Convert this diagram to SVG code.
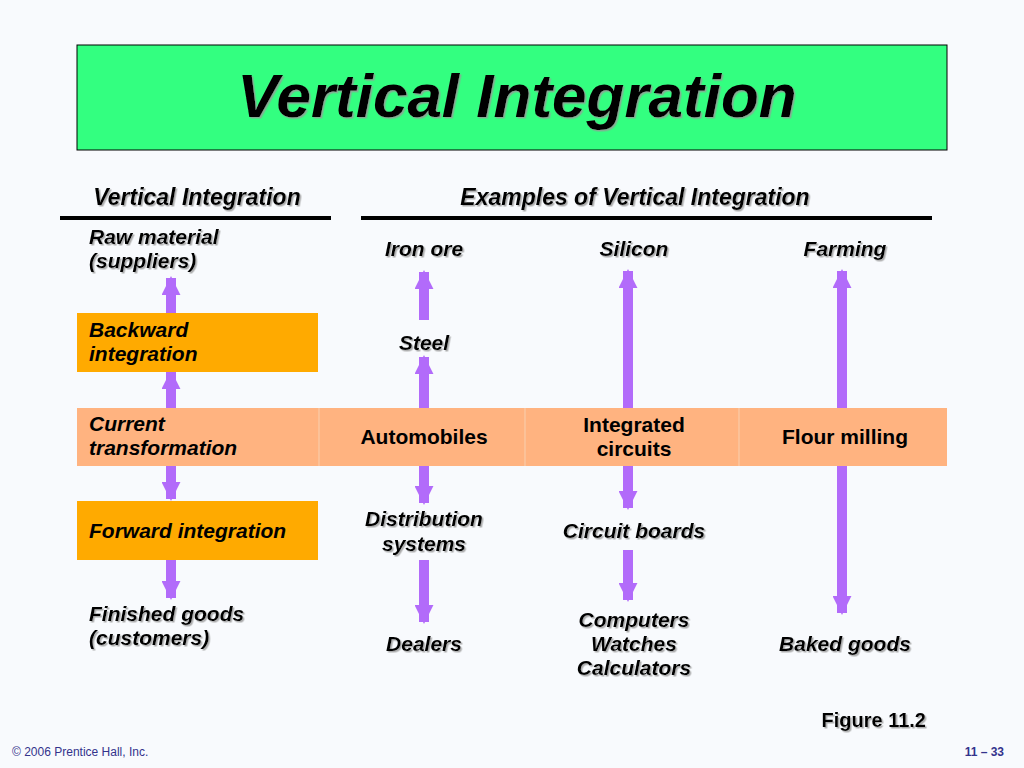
<svg xmlns="http://www.w3.org/2000/svg" width="1024" height="768" viewBox="0 0 1024 768">
<defs>
<marker id="ah" viewBox="0 0 10 10" refX="9" refY="5" markerWidth="1.9" markerHeight="1.9" markerUnits="strokeWidth" orient="auto"><path d="M0,0 L10,5 L0,10 Z" fill="#B26BFA"/></marker>
<filter id="sh" x="-5%" y="-5%" width="110%" height="120%"><feDropShadow dx="1.5" dy="1.5" stdDeviation="0.3" flood-color="#999" flood-opacity="0.8"/></filter>
</defs>
<style>
.t{font-family:"Liberation Sans",Arial,sans-serif;font-weight:bold;font-style:italic;font-size:21px;fill:#000;filter:url(#sh)}
.c{text-anchor:middle}
.n{font-family:"Liberation Sans",Arial,sans-serif;font-weight:bold;font-size:21px;fill:#000}
.ar{stroke:#B26BFA;stroke-width:10;fill:none;marker-end:url(#ah)}
</style>
<rect width="1024" height="768" fill="#F8FAFD"/>
<g id="title">
<rect x="77" y="45" width="870" height="105" fill="#33FF80" stroke="#000" stroke-width="1"/>
<text x="517" y="117" class="t c" style="font-size:62px">Vertical Integration</text>
</g>
<g id="headers">
<text x="197" y="205" class="t c" style="font-size:23px">Vertical Integration</text>
<line x1="60" y1="218" x2="331" y2="218" stroke="#000" stroke-width="4"/>
<text x="635" y="205" class="t c" style="font-size:23px">Examples of Vertical Integration</text>
<line x1="361" y1="218" x2="932" y2="218" stroke="#000" stroke-width="4"/>
</g>
<g id="band">
<rect x="77" y="408" width="870" height="58" fill="#FFB380"/>
<line x1="319" y1="408" x2="319" y2="466" stroke="#F8D0B0" stroke-width="1"/>
<line x1="525" y1="408" x2="525" y2="466" stroke="#F8D0B0" stroke-width="1"/>
<line x1="739" y1="408" x2="739" y2="466" stroke="#F8D0B0" stroke-width="1"/>
</g>
<g id="connectors">
<path class="ar" d="M171,313 V278"/>
<path class="ar" d="M171,408 V372"/>
<path class="ar" d="M171,466 V499"/>
<path class="ar" d="M171,560 V598"/>
<path class="ar" d="M424,320 V272"/>
<path class="ar" d="M424,408 V357"/>
<path class="ar" d="M424,466 V503"/>
<path class="ar" d="M424,560 V622"/>
<path class="ar" d="M628,408 V271"/>
<path class="ar" d="M628,466 V508"/>
<path class="ar" d="M628,550 V600"/>
<path class="ar" d="M842,408 V271"/>
<path class="ar" d="M842,466 V613"/>
</g>
<g id="raw"><text x="89" y="244" class="t">Raw material</text><text x="89" y="268" class="t">(suppliers)</text></g>
<g id="backward"><rect x="77" y="313" width="241" height="59" fill="#FFAA00"/><text x="89" y="337" class="n" font-style="italic">Backward</text><text x="89" y="361" class="n" font-style="italic">integration</text></g>
<g id="current"><text x="89" y="431" class="n" font-style="italic">Current</text><text x="89" y="455" class="n" font-style="italic">transformation</text></g>
<g id="forward"><rect x="77" y="501" width="241" height="59" fill="#FFAA00"/><text x="89" y="538" class="n" font-style="italic">Forward integration</text></g>
<g id="finished"><text x="89" y="621" class="t">Finished goods</text><text x="89" y="645" class="t">(customers)</text></g>
<g id="ironore"><text x="424" y="256" class="t c">Iron ore</text></g>
<g id="steel"><text x="424" y="350" class="t c">Steel</text></g>
<g id="automobiles"><text x="424" y="444" class="n c">Automobiles</text></g>
<g id="distribution"><text x="424" y="526" class="t c">Distribution</text><text x="424" y="551" class="t c">systems</text></g>
<g id="dealers"><text x="424" y="651" class="t c">Dealers</text></g>
<g id="silicon"><text x="634" y="256" class="t c">Silicon</text></g>
<g id="ic"><text x="634" y="432" class="n c">Integrated</text><text x="634" y="456" class="n c">circuits</text></g>
<g id="boards"><text x="634" y="538" class="t c">Circuit boards</text></g>
<g id="computers"><text x="634" y="627" class="t c">Computers</text><text x="634" y="651" class="t c">Watches</text><text x="634" y="675" class="t c">Calculators</text></g>
<g id="farming"><text x="845" y="256" class="t c">Farming</text></g>
<g id="flour"><text x="845" y="444" class="n c">Flour milling</text></g>
<g id="baked"><text x="845" y="651" class="t c">Baked goods</text></g>
<text x="926" y="727" class="t" text-anchor="end" style="font-style:normal;font-size:20px">Figure 11.2</text>
<text x="12" y="756" font-family="Liberation Sans,Arial,sans-serif" font-size="12" fill="#33338C">© 2006 Prentice Hall, Inc.</text>
<text x="1004" y="756" font-family="Liberation Sans,Arial,sans-serif" font-size="12" font-weight="bold" fill="#33338C" text-anchor="end">11 – 33</text>
</svg>
